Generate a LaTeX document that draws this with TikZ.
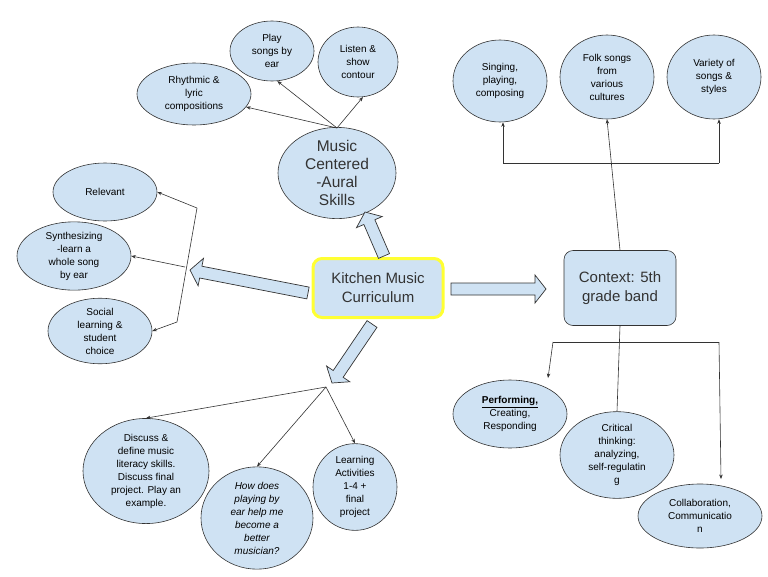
\documentclass[tikz,border=0pt]{standalone}
\usepackage{fontspec}
\setmainfont{Liberation Sans}
\usetikzlibrary{shapes.geometric,calc,arrows.meta}
\definecolor{nodefill}{HTML}{CFE2F3}
\definecolor{edge}{HTML}{333333}
\definecolor{hilite}{HTML}{FFFF33}
\tikzset{
  bub/.style={ellipse,draw=edge,line width=0.6pt,fill=nodefill,inner sep=0pt,align=center,
    font=\fontsize{10}{13}\selectfont,text=black},
  bigbub/.style={bub,font=\fontsize{15.5}{17.7}\selectfont,text=edge},
  rbox/.style={rectangle,rounded corners=9pt,draw=edge,line width=0.6pt,fill=nodefill,align=center,
    font=\fontsize{15}{19}\selectfont,text=edge},
  conn/.style={draw=edge,line width=0.6pt},
  arr/.style={conn,-{Stealth[length=4.5pt,width=3.5pt]}},
  blk/.style={draw=edge,line width=0.7pt,fill=nodefill,line join=miter}
}
% block arrow from #1 to #2
\newcommand{\blockarr}[2]{%
  \coordinate (bC) at ($(#2)!11pt!(#1)$);
  \draw[blk] ($(#1)!6pt!90:(#2)$) -- ($(bC)!6pt!90:(#2)$) -- ($(bC)!14pt!90:(#2)$) -- (#2)
    -- ($(bC)!14pt!-90:(#2)$) -- ($(bC)!6pt!-90:(#2)$) -- ($(#1)!6pt!-90:(#2)$) -- cycle;}
\begin{document}
\begin{tikzpicture}[x=1pt,y=-1pt]
\useasboundingbox (0,0) rectangle (768,576);
\fill[white] (0,0) rectangle (768,576);

% centre
\node[rbox,minimum width=130pt,minimum height=59pt,draw=hilite,line width=3pt] (kmc) at (378,288) {Kitchen Music\\Curriculum};

% top cluster
\node[bigbub,minimum width=118pt,minimum height=88pt] (mcas) at (337,173) {Music\\Centered\\-Aural\\Skills};
\node[bub,minimum width=84pt,minimum height=60pt] (play) at (272,51) {Play\\songs by\\ear};
\node[bub,minimum width=80pt,minimum height=70pt] (listen) at (358,62) {Listen \&\\show\\contour};
\node[bub,minimum width=114pt,minimum height=62pt] (rhy) at (194,94) {Rhythmic \&\\lyric\\compositions};
\coordinate (mtop) at (337,128);
\draw[arr] (mtop) -- (rhy.-14);
\draw[arr] (mtop) -- (play.-80);
\draw[arr] (mtop) -- (listen.-82);

% left cluster
\node[bub,minimum width=104pt,minimum height=58pt] (rel) at (105,192) {Relevant};
\node[bub,minimum width=114pt,minimum height=60pt] (syn) at (74,256) {Synthesizing\\-learn a\\whole song\\by ear};
\node[bub,minimum width=104pt,minimum height=64pt] (soc) at (100,331) {Social\\learning \&\\student\\choice};
\coordinate (lb1) at (197,208);
\coordinate (lb2) at (177,322);
\coordinate (lbm) at (185,267);
\draw[conn] (lb1) -- (lb2);
\draw[arr] (lb1) -- (rel.east);
\draw[arr] (lbm) -- (syn.east);
\draw[arr] (lb2) -- (soc.east);

% right cluster
\node[rbox,minimum width=112pt,minimum height=75pt] (ctx) at (620,288) {Context: 5th\\grade band};
\node[bub,minimum width=94pt,minimum height=82pt] (sing) at (500,81) {Singing,\\playing,\\composing};
\node[bub,minimum width=94pt,minimum height=84pt] (folk) at (607,77) {Folk songs\\from\\various\\cultures};
\node[bub,minimum width=94pt,minimum height=84pt] (var) at (714,77) {Variety of\\songs \&\\styles};
\coordinate (rbl) at (503,163);
\coordinate (rbr) at (719,163);
\draw[conn] (rbl) -- (rbr);
\draw[arr] (rbl) -- (rbl |- sing.south);
\draw[arr] (rbr) -- (rbr |- var.south);
\draw[arr] (ctx.north) -- (folk.south);

% bottom right cluster
\node[bub,minimum width=114pt,minimum height=68pt] (perf) at (510,414) {\underline{\textbf{Performing,}}\\Creating,\\Responding};
\node[bub,minimum width=114pt,minimum height=78pt] (crit) at (617,455) {Critical\\thinking:\\analyzing,\\self-regulatin\\g};
\node[bub,minimum width=124pt,minimum height=64pt] (coll) at (700,516) {Collaboration,\\Communicatio\\n};
\coordinate (bbl) at (553,342);
\coordinate (bbr) at (719,342);
\draw[conn] (ctx.south) -- (crit.north);
\draw[conn] (bbl) -- (bbr);
\draw[arr] (bbl) -- (548,378);
\draw[arr] (bbr) -- (721,479);

% bottom left cluster
\coordinate (jn) at (326,387);
\node[bub,minimum width=126pt,minimum height=94pt] (disc) at (146,471) {Discuss \&\\define music\\literacy skills.\\Discuss final\\project. Play an\\example.};
\node[bub,minimum width=112pt,minimum height=88pt,font=\fontsize{10}{13}\selectfont\itshape] (how) at (257,518) {How does\\playing by\\ear help me\\become a\\better\\musician?};
\node[bub,minimum width=84pt,minimum height=74pt] (learn) at (355,487) {Learning\\Activities\\1-4 +\\final\\project};
\draw[arr] (jn) -- (disc.north);
\draw[arr] (jn) -- (how.north);
\draw[arr] (jn) -- (learn.north);

% block arrows
\coordinate (baL1) at (308,293);
\coordinate (baL2) at (190,270);
\coordinate (baU1) at (384,256);
\coordinate (baU2) at (365,212);
\coordinate (baD1) at (372,324);
\coordinate (baD2) at (332,383);
\coordinate (baR1) at (451,289);
\coordinate (baR2) at (546,289);
\blockarr{baL1}{baL2}
\blockarr{baU1}{baU2}
\blockarr{baD1}{baD2}
\blockarr{baR1}{baR2}
\end{tikzpicture}
\end{document}
